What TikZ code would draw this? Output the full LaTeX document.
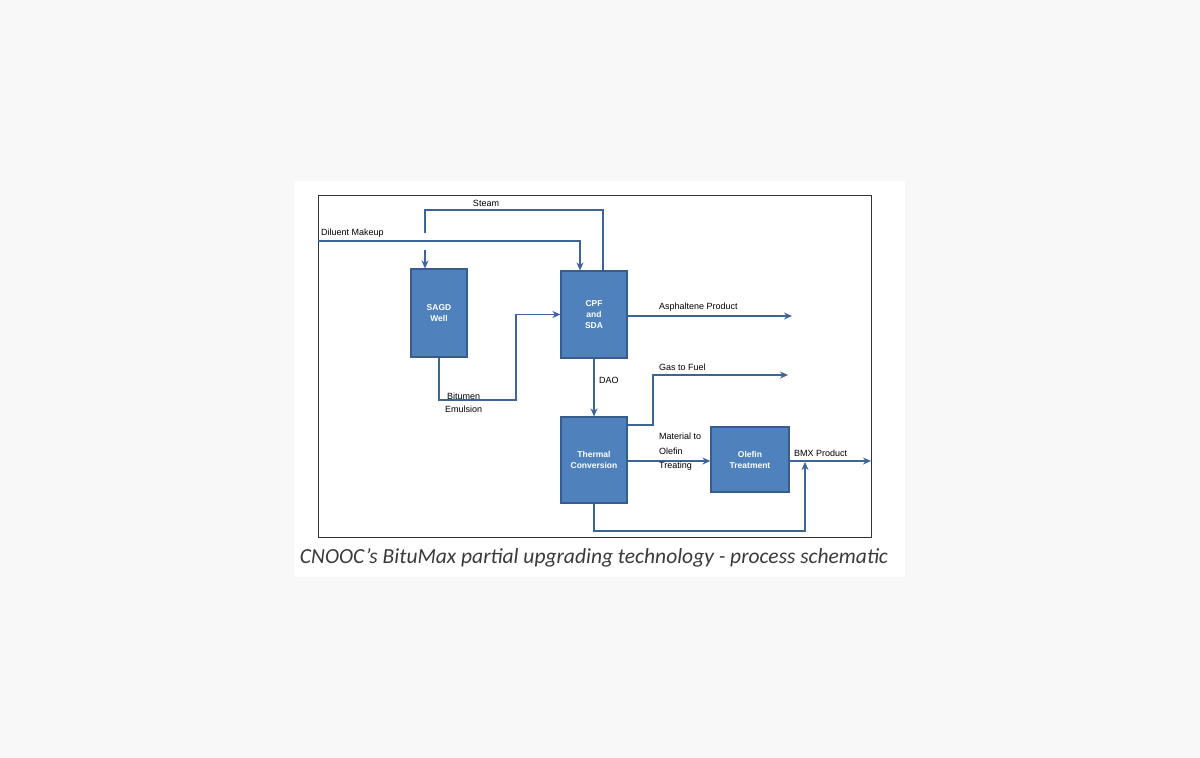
\documentclass[tikz,border=0pt]{standalone}
\usepackage{fontspec}
\setmainfont{Liberation Sans}
\newfontfamily\capfont{Carlito}
\usepackage{xcolor}
\definecolor{pagebg}{HTML}{F8F8F8}
\definecolor{boxfill}{HTML}{4F81BD}
\definecolor{boxline}{HTML}{385D8A}
\definecolor{flow}{HTML}{3D6598}
\definecolor{captext}{HTML}{3A3A3A}
\usetikzlibrary{positioning,arrows.meta}

\begin{document}
\begin{tikzpicture}[x=1pt,y=-1pt,
  unit/.style={draw=boxline, line width=1.2pt, fill=boxfill, text=white, font=\fontsize{8.5}{11}\selectfont\bfseries, align=center, inner sep=0pt},
  lbl/.style={font=\fontsize{9}{11}\selectfont, inner sep=0pt, align=left},
  arr/.style={-{Stealth[length=8pt,width=7pt]}, flow, line width=1.6pt},
  pipe/.style={flow, line width=1.6pt}
]
  \fill[pagebg] (0,0) rectangle (1200,758);
  \useasboundingbox (0,0) rectangle (1200,758);
  \fill[white] (294,181) rectangle (905,577);
  \draw[black!80, line width=1pt] (318,195) rectangle (871,537);

  \node[unit, minimum width=56pt, minimum height=88pt] (sagd) at (439,313) {SAGD\\Well};
  \node[unit, minimum width=66pt, minimum height=87pt] (cpf) at (594,314.5) {CPF\\and\\SDA};
  \node[unit, minimum width=66pt, minimum height=86pt] (thermal) at (594,460) {Thermal\\Conversion};
  \node[unit, minimum width=78pt, minimum height=65pt] (olefin) at (750,459.5) {Olefin\\Treatment};

  \coordinate (steamin) at (425,233);
  \coordinate (wellin) at (425,250);
  \coordinate (dilin) at (318,241);
  \coordinate (asphout) at (792,316);
  \coordinate (gasout) at (788,375);
  \coordinate (bmxout) at (871,461);

  \draw[pipe] (steamin) |- (603,210) -- (cpf.north -| 603,0);
  \draw[arr] (wellin) -- (sagd.north -| wellin);
  \draw[arr] (dilin) -| (cpf.north -| 580,0);
  \draw[arr] (sagd.south) |- (516,400) |- (cpf.west);
  \draw[arr] (cpf.east |- asphout) -- (asphout);
  \draw[arr] (cpf.south) -- (thermal.north);
  \draw[arr] (thermal.north east |- 0,425) -| (653,375) -- (gasout);
  \draw[arr] (thermal.east |- 0,461) -- (olefin.west |- 0,461);
  \draw[arr] (olefin.east |- 0,461) -- (bmxout);
  \draw[arr] (thermal.south) |- (805,531) -- (805,462);

  \node[lbl] (steam) at (486,203) {Steam};
  \node[lbl, anchor=west] (dil) at (321,233) {Diluent Makeup};
  \node[lbl, anchor=west] (bit) at (447,396) {Bitumen};
  \node[lbl, anchor=west] (emu) at (445,409) {Emulsion};
  \node[lbl, anchor=west] (asph) at (659,307) {Asphaltene Product};
  \node[lbl, anchor=west] (dao) at (599,380) {DAO};
  \node[lbl, anchor=west] (gas) at (659,367) {Gas to Fuel};
  \node[lbl, anchor=north west, font=\fontsize{9}{14.5}\selectfont] (mat) at (659,433) {Material to\\Olefin\\Treating};
  \node[lbl, anchor=west] (bmx) at (794,453) {BMX Product};

  \node[font=\capfont\itshape\fontsize{21.5}{24}\selectfont, text=captext] (cap) at (594,558) {CNOOC’s BituMax partial upgrading technology - process schematic};
\end{tikzpicture}
\end{document}
